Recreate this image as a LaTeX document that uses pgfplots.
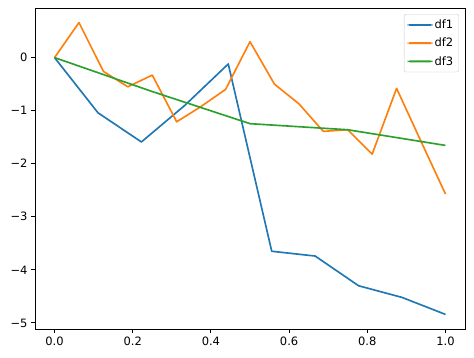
\documentclass[border=0pt]{standalone}
\usepackage{fontspec}
\setmainfont{DejaVu Sans}
\usepackage{pgfplots}
\pgfplotsset{compat=1.18}
\definecolor{c1}{HTML}{1F77B4}
\definecolor{c2}{HTML}{FF7F0E}
\definecolor{c3}{HTML}{2CA02C}
\begin{document}
\begin{tikzpicture}
\begin{axis}[
  scale only axis, width=430pt, height=321pt,
  xmin=-0.05, xmax=1.05, ymin=-5.115, ymax=0.935,
  xtick={0,0.2,0.4,0.6,0.8,1.0},
  xticklabels={0.0,0.2,0.4,0.6,0.8,1.0},
  ytick={-5,-4,-3,-2,-1,0},
  yticklabels={−5,−4,−3,−2,−1,0},
  tick align=outside, tick pos=left,
  major tick length=4pt,
  every tick/.style={black, line width=0.9pt},
  axis line style={line width=0.9pt},
  ticklabel style={font=\fontsize{11.5}{13}\selectfont},
  legend style={at={(rel axis cs:0.986,0.981)}, anchor=north east,
    draw=black!20, rounded corners=2pt, fill=white,
    font=\fontsize{11.5}{13}\selectfont, row sep=4pt, inner sep=3.5pt},
  legend cell align=left,
  legend image code/.code={\fill[#1, draw=none] (0pt,-0.9pt) rectangle (25pt,0.9pt);},
]
\addplot[color=c1, line width=1.65pt, line join=round, forget plot] coordinates {
(0,0) (0.1111,-1.04) (0.2222,-1.59) (0.3333,-0.9) (0.4444,-0.12)
(0.5556,-3.65) (0.6667,-3.74) (0.7778,-4.30) (0.8889,-4.52) (1.0,-4.84)};
\addplot[color=c2, line width=1.65pt, line join=round, forget plot] coordinates {
(0,0) (0.0625,0.66) (0.125,-0.26) (0.1875,-0.55) (0.25,-0.33)
(0.3125,-1.21) (0.375,-0.92) (0.4375,-0.60) (0.5,0.30) (0.5625,-0.50)
(0.625,-0.87) (0.6875,-1.39) (0.75,-1.36) (0.8125,-1.82) (0.875,-0.58)
(0.9375,-1.58) (1.0,-2.57)};
\addplot[color=c3, line width=1.65pt, line join=round, forget plot] coordinates {
(0,0) (0.25,-0.64) (0.5,-1.245) (0.75,-1.36) (1.0,-1.655)};
\addlegendimage{color=c1, fill=c1}
\addlegendentry{df1}
\addlegendimage{color=c2, fill=c2}
\addlegendentry{df2}
\addlegendimage{color=c3, fill=c3}
\addlegendentry{df3}
\end{axis}
\path[use as bounding box] ([shift={(-35pt,-29pt)}]current axis.south west) rectangle ([shift={(9pt,8pt)}]current axis.north east);
\end{tikzpicture}
\end{document}
